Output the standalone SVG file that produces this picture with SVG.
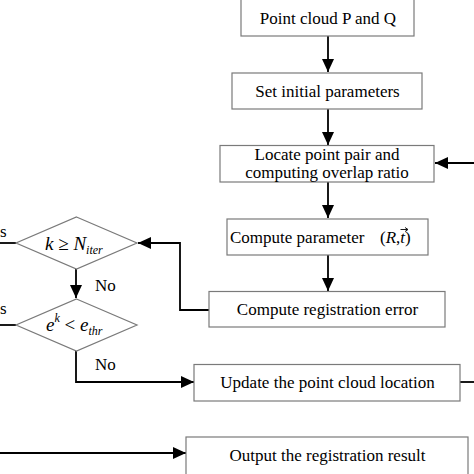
<svg xmlns="http://www.w3.org/2000/svg" width="474" height="474" viewBox="0 0 474 474">
<style>
.box{fill:#fff;stroke:#7a7a7a;stroke-width:1.2}
.t{font-family:"Liberation Serif","Times New Roman",serif;font-size:17px;fill:#000}
.c{text-anchor:middle}
.m{font-family:"Liberation Serif","Times New Roman",serif;font-style:italic;fill:#000}
.ln{fill:none;stroke:#000;stroke-width:1.8}
</style>
<defs>
<marker id="ah" markerUnits="userSpaceOnUse" markerWidth="14" markerHeight="12" refX="13" refY="6" orient="auto">
<path d="M0,0 L13,6 L0,12 Z" fill="#000"/>
</marker>
</defs>
<rect width="474" height="474" fill="#fff"/>
<g id="connectors">
<line class="ln" x1="328" y1="36" x2="328" y2="72" marker-end="url(#ah)"/>
<line class="ln" x1="328" y1="109" x2="328" y2="145" marker-end="url(#ah)"/>
<line class="ln" x1="474" y1="163" x2="435" y2="163" marker-end="url(#ah)"/>
<line class="ln" x1="328" y1="182" x2="328" y2="218" marker-end="url(#ah)"/>
<line class="ln" x1="328" y1="255" x2="328" y2="291" marker-end="url(#ah)"/>
<polyline class="ln" points="209,310 180,310 180,243 138,243" marker-end="url(#ah)"/>
<line class="ln" x1="0" y1="243" x2="16" y2="243"/>
<line class="ln" x1="76" y1="269" x2="76" y2="298" marker-end="url(#ah)"/>
<line class="ln" x1="0" y1="325" x2="16" y2="325"/>
<polyline class="ln" points="76,351 76,382 194,382" marker-end="url(#ah)"/>
<line class="ln" x1="460" y1="382" x2="474" y2="382"/>
<line class="ln" x1="0" y1="453" x2="186" y2="453" marker-end="url(#ah)"/>
<text class="t" x="0" y="237">s</text>
<text class="t" x="0" y="314">s</text>
<text class="t" x="95" y="291">No</text>
<text class="t" x="95" y="370">No</text>
</g>
<g id="n1">
<rect class="box" x="241" y="-5" width="173" height="41"/>
<text class="t c" x="328" y="24">Point cloud P and Q</text>
</g>
<g id="n2">
<rect class="box" x="232" y="73" width="190" height="36"/>
<text class="t c" x="327.5" y="97">Set initial parameters</text>
</g>
<g id="n3">
<rect class="box" x="220" y="145.5" width="214" height="36.5"/>
<text class="t c" x="327" y="159.5">Locate point pair and</text>
<text class="t c" x="327" y="177.5">computing overlap ratio</text>
</g>
<g id="n4">
<rect class="box" x="227" y="219" width="201" height="36"/>
<text class="t" x="230" y="243">Compute parameter</text>
<text class="t" x="380" y="243">(<tspan font-style="italic">R</tspan>,<tspan font-style="italic">t</tspan>)</text>
<path d="M400.5,229.5 H407.5 M405,227.5 L408,229.5 L405,231.5" fill="none" stroke="#000" stroke-width="0.9"/>
</g>
<g id="n5">
<rect class="box" x="209" y="291.5" width="236" height="35.5"/>
<text class="t c" x="327.5" y="315">Compute registration error</text>
</g>
<g id="d1">
<polygon class="box" points="76.5,217 137,243 76.5,269 16,243"/>
<text class="m" x="45" y="250" font-size="19">k <tspan font-style="normal">≥</tspan> N<tspan font-size="12" dy="4">iter</tspan></text>
</g>
<g id="d2">
<polygon class="box" points="76.5,299 137,325 76.5,351 16,325"/>
<text class="m" x="46" y="331" font-size="19">e<tspan font-size="12" dy="-9">k</tspan><tspan dy="9" font-style="normal"> &lt; </tspan>e<tspan font-size="12" dy="4">thr</tspan></text>
</g>
<g id="n6">
<rect class="box" x="194" y="364.5" width="266" height="36.5"/>
<text class="t c" x="327.5" y="388">Update the point cloud location</text>
</g>
<g id="n7">
<rect class="box" x="186" y="437" width="282" height="45"/>
<text class="t c" x="327.5" y="461">Output the registration result</text>
</g>
</svg>
